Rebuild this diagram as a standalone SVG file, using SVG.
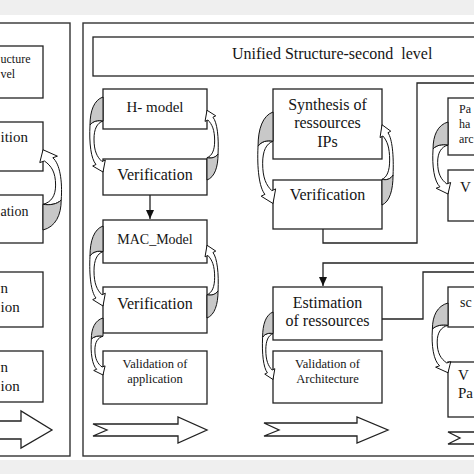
<svg xmlns="http://www.w3.org/2000/svg" xmlns:xlink="http://www.w3.org/1999/xlink" width="474" height="474" viewBox="0 0 474 474">
<style>
.box{fill:#fff;stroke:#222;stroke-width:1.3}
.pnl{fill:#fff;stroke:#333;stroke-width:1.4}
.t{font-family:"Liberation Serif","Times New Roman",serif;fill:#151515}
.c{text-anchor:middle}
.ln{fill:none;stroke:#222;stroke-width:1.3}
.crs{fill:#c8c8c8;stroke:#111;stroke-width:1;vector-effect:non-scaling-stroke}
.band{fill:#fff;stroke:#111;stroke-width:1;vector-effect:non-scaling-stroke}
.big{fill:#fff;stroke:#222;stroke-width:1.3}
</style>
<defs>
<marker id="ah" markerWidth="10" markerHeight="10" refX="9" refY="5" orient="auto" markerUnits="userSpaceOnUse">
<path d="M0,1 L9,5 L0,9 Z" fill="#111"/>
</marker>
<g id="curv">
<path class="band" d="M0,24 C-6,26 -9,32 -9,42 C-9,54 -6,60 -1,64.5 L2.3,63 L0,75 L-10.3,69 L-7,67.5 C-12,62 -14,46 -13,28 C-10,24 -5,23 0,24 Z"/>
<path class="crs" d="M0,0 C-9,3 -13,14 -13,28 C-10,24 -5,23 0,24 Z"/>
</g>
</defs>
<rect x="0" y="0" width="474" height="474" fill="#efefef"/>
<rect x="0" y="15" width="474" height="445" fill="#fff"/>
<rect class="pnl" x="-3" y="23" width="73" height="433"/>
<rect class="pnl" x="83" y="23" width="400" height="433"/>
<g id="title">
<rect class="box" x="93" y="37" width="390" height="39"/>
<text class="t" x="232" y="59" font-size="16" xml:space="preserve">Unified Structure-second  level</text>
</g>
<g id="connectors">
<line class="ln" x1="150" y1="195" x2="150" y2="219" marker-end="url(#ah)"/>
<polyline class="ln" points="323,229 323,243 417,243 417,83 480,83"/>
<polyline class="ln" points="480,263 323,263 323,286" marker-end="url(#ah)"/>
<polyline class="ln" points="382,319 423,319 423,272 480,272"/>
</g>
<g id="left-panel">
<g id="l1"><rect class="box" x="-3" y="46" width="46" height="52"/>
<text class="t" x="0.5" y="63" font-size="12">ucture</text>
<text class="t" x="0.5" y="78" font-size="12">vel</text></g>
<g id="l2"><rect class="box" x="-3" y="122" width="46" height="49"/>
<text class="t" x="0.5" y="142" font-size="15">ition</text></g>
<g id="l3"><rect class="box" x="-3" y="195" width="46" height="48"/>
<text class="t" x="0.5" y="216" font-size="14">ation</text></g>
<g id="l4"><rect class="box" x="-3" y="272" width="46" height="55"/>
<text class="t" x="0.5" y="293" font-size="15">n</text>
<text class="t" x="0.5" y="312" font-size="15">ion</text></g>
<g id="l5"><rect class="box" x="-3" y="351" width="46" height="51"/>
<text class="t" x="0.5" y="372" font-size="15">n</text>
<text class="t" x="0.5" y="391" font-size="15">ion</text></g>
<path class="big" d="M-5,421 L21,421 L21,411 L52,430 L21,448 L21,439 L-5,439 Z"/>
</g>
<g id="col1">
<g id="hmodel"><rect class="box" x="103" y="89" width="104" height="40"/>
<text class="t c" x="155" y="112" font-size="15">H- model</text></g>
<g id="verif1"><rect class="box" x="103" y="159" width="104" height="36"/>
<text class="t c" x="155" y="180" font-size="16">Verification</text></g>
<g id="mac"><rect class="box" x="103" y="220" width="104" height="43"/>
<text class="t c" x="155" y="244" font-size="14">MAC_Model</text></g>
<g id="verif2"><rect class="box" x="103" y="287" width="104" height="46"/>
<text class="t c" x="155" y="309" font-size="16">Verification</text></g>
<g id="valapp"><rect class="box" x="103" y="351" width="104" height="53"/>
<text class="t c" x="155" y="368" font-size="12.5">Validation of</text>
<text class="t c" x="155" y="383" font-size="12.5">application</text></g>
<path class="big" d="M93,424 L178,424 L178,417 L207,430 L178,443 L178,436 L93,436 L107,430 Z"/>
</g>
<g id="col2">
<g id="synth"><rect class="box" x="273" y="89" width="109" height="70"/>
<text class="t c" x="327.5" y="110" font-size="16">Synthesis of</text>
<text class="t c" x="327.5" y="128" font-size="16">ressources</text>
<text class="t c" x="327.5" y="147" font-size="16">IPs</text></g>
<g id="verif3"><rect class="box" x="273" y="180" width="109" height="49"/>
<text class="t c" x="327.5" y="200" font-size="16">Verification</text></g>
<g id="estim"><rect class="box" x="273" y="287" width="109" height="53"/>
<text class="t c" x="327.5" y="308" font-size="16">Estimation</text>
<text class="t c" x="327.5" y="326" font-size="16">of ressources</text></g>
<g id="valarch"><rect class="box" x="273" y="351" width="109" height="52"/>
<text class="t c" x="327.5" y="368" font-size="12.5">Validation of</text>
<text class="t c" x="327.5" y="383" font-size="12.5">Architecture</text></g>
<path class="big" d="M264,423 L357,423 L357,417 L388,430 L357,443 L357,436 L264,436 L279,430 Z"/>
</g>
<g id="col3">
<g id="par"><rect class="box" x="448" y="98" width="40" height="57"/>
<text class="t" x="459" y="113" font-size="12">Pa</text>
<text class="t" x="459" y="128" font-size="12">ha</text>
<text class="t" x="459" y="143" font-size="12">arc</text></g>
<g id="v1"><rect class="box" x="448" y="170" width="40" height="51"/>
<text class="t" x="460" y="192" font-size="15">V</text></g>
<g id="sc"><rect class="box" x="448" y="287" width="40" height="40"/>
<text class="t" x="460" y="307" font-size="14">sc</text></g>
<g id="vpa"><rect class="box" x="448" y="362" width="40" height="55"/>
<text class="t" x="458" y="380" font-size="15">V</text>
<text class="t" x="458" y="398" font-size="15">Pa</text></g>
<path class="big" d="M448,432 L480,432 L480,444 L448,444 L460,438 Z"/>
</g>
<g id="curved-arrows">
<use xlink:href="#curv" transform="translate(103,97) scale(1,1)"/>
<use xlink:href="#curv" transform="translate(103,226) scale(1,1.067)"/>
<use xlink:href="#curv" transform="translate(103,318) scale(0.9,0.76)"/>
<use xlink:href="#curv" transform="translate(273,112) scale(1.15,1.22)"/>
<use xlink:href="#curv" transform="translate(273,312) scale(0.8,0.9)"/>
<use xlink:href="#curv" transform="translate(448,122) scale(1.15,0.96)"/>
<use xlink:href="#curv" transform="translate(448,303) scale(1.2,0.93)"/>
<use xlink:href="#curv" transform="translate(207,180) scale(-0.85,-0.93)"/>
<use xlink:href="#curv" transform="translate(207,318) scale(-0.85,-0.97)"/>
<use xlink:href="#curv" transform="translate(382,205) scale(-0.85,-1.07)"/>
<use xlink:href="#curv" transform="translate(43,230) scale(-1.4,-1.07)"/>
</g>
</svg>
